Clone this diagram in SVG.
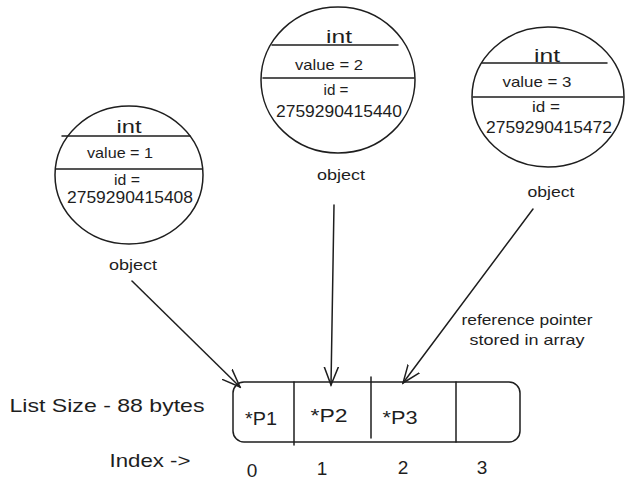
<svg xmlns="http://www.w3.org/2000/svg" width="633" height="494" viewBox="0 0 633 494">
<defs>
<style>
.s{fill:none;stroke:#1e1e1e;stroke-width:1.5;stroke-linecap:round}
.t{font-family:"Liberation Sans",Arial,sans-serif;fill:#1e1e1e;text-anchor:middle}
.ti{font-size:18px}
.tv{font-size:15px}
.tn{font-size:17px}
.tl{font-size:15px}
.tb{font-size:19px}
</style>
<marker id="ah" viewBox="0 0 20 20" refX="18" refY="10" markerWidth="20" markerHeight="20" markerUnits="userSpaceOnUse" orient="auto">
<path d="M0,3 L18,10 L0,17" fill="none" stroke="#1e1e1e" stroke-width="1.5" stroke-linecap="round"/>
</marker>
</defs>
<rect width="633" height="494" fill="#ffffff"/>
<g id="obj1">
<ellipse class="s" cx="129" cy="175" rx="74" ry="69"/>
<text class="t ti" x="129" y="133" textLength="25" lengthAdjust="spacingAndGlyphs">int</text>
<line class="s" x1="62" y1="136" x2="190" y2="136"/>
<text class="t tv" x="120" y="158" textLength="66" lengthAdjust="spacingAndGlyphs">value = 1</text>
<line class="s" x1="56" y1="169" x2="202" y2="169"/>
<text class="t tv" x="127" y="185" textLength="26" lengthAdjust="spacingAndGlyphs">id =</text>
<text class="t tn" x="130" y="203" textLength="126" lengthAdjust="spacingAndGlyphs">2759290415408</text>
</g>
<g id="obj2">
<ellipse class="s" cx="338" cy="80" rx="77" ry="73"/>
<text class="t ti" x="339" y="43" textLength="26" lengthAdjust="spacingAndGlyphs">int</text>
<line class="s" x1="272" y1="45" x2="398" y2="45"/>
<text class="t tv" x="329" y="70" textLength="68" lengthAdjust="spacingAndGlyphs">value = 2</text>
<line class="s" x1="263" y1="78" x2="414" y2="78"/>
<text class="t tv" x="336" y="95" textLength="25" lengthAdjust="spacingAndGlyphs">id =</text>
<text class="t tn" x="339" y="117" textLength="126" lengthAdjust="spacingAndGlyphs">2759290415440</text>
</g>
<g id="obj3">
<ellipse class="s" cx="548" cy="97" rx="76" ry="70"/>
<text class="t ti" x="547" y="62" textLength="26" lengthAdjust="spacingAndGlyphs">int</text>
<line class="s" x1="482" y1="63" x2="607" y2="63"/>
<text class="t tv" x="537" y="87" textLength="69" lengthAdjust="spacingAndGlyphs">value = 3</text>
<line class="s" x1="473" y1="97" x2="623" y2="97"/>
<text class="t tv" x="546" y="112" textLength="28" lengthAdjust="spacingAndGlyphs">id =</text>
<text class="t tn" x="549" y="133" textLength="126" lengthAdjust="spacingAndGlyphs">2759290415472</text>
</g>
<g id="labels">
<text class="t tl" x="133" y="270" textLength="48" lengthAdjust="spacingAndGlyphs">object</text>
<text class="t tl" x="341" y="180" textLength="48" lengthAdjust="spacingAndGlyphs">object</text>
<text class="t tl" x="551" y="197" textLength="47" lengthAdjust="spacingAndGlyphs">object</text>
<text class="t tl" x="527" y="325" textLength="131" lengthAdjust="spacingAndGlyphs">reference pointer</text>
<text class="t tl" x="527" y="345" textLength="115" lengthAdjust="spacingAndGlyphs">stored in array</text>
<text class="t tb" x="107" y="412" textLength="195" lengthAdjust="spacingAndGlyphs">List Size - 88 bytes</text>
<text class="t tb" x="150" y="467" textLength="81" lengthAdjust="spacingAndGlyphs">Index -&gt;</text>
<text class="t tb" x="252" y="477">0</text>
<text class="t tb" x="322" y="475">1</text>
<text class="t tb" x="403" y="474">2</text>
<text class="t tb" x="482" y="474">3</text>
</g>
<g id="array">
<rect class="s" x="233" y="382" width="287" height="60" rx="11"/>
<line class="s" x1="294" y1="382" x2="294" y2="445"/>
<line class="s" x1="371" y1="377" x2="371" y2="438"/>
<line class="s" x1="456" y1="382" x2="456" y2="442"/>
<text class="t tb" x="261" y="425" textLength="32" lengthAdjust="spacingAndGlyphs">*P1</text>
<text class="t tb" x="329" y="422" textLength="37" lengthAdjust="spacingAndGlyphs">*P2</text>
<text class="t tb" x="400" y="424" textLength="35" lengthAdjust="spacingAndGlyphs">*P3</text>
</g>
<g id="connectors">
<line class="s" x1="132" y1="281" x2="240" y2="387" marker-end="url(#ah)"/>
<line class="s" x1="334" y1="205" x2="331" y2="385" marker-end="url(#ah)"/>
<line class="s" x1="533" y1="209" x2="403" y2="383" marker-end="url(#ah)"/>
</g>
</svg>
